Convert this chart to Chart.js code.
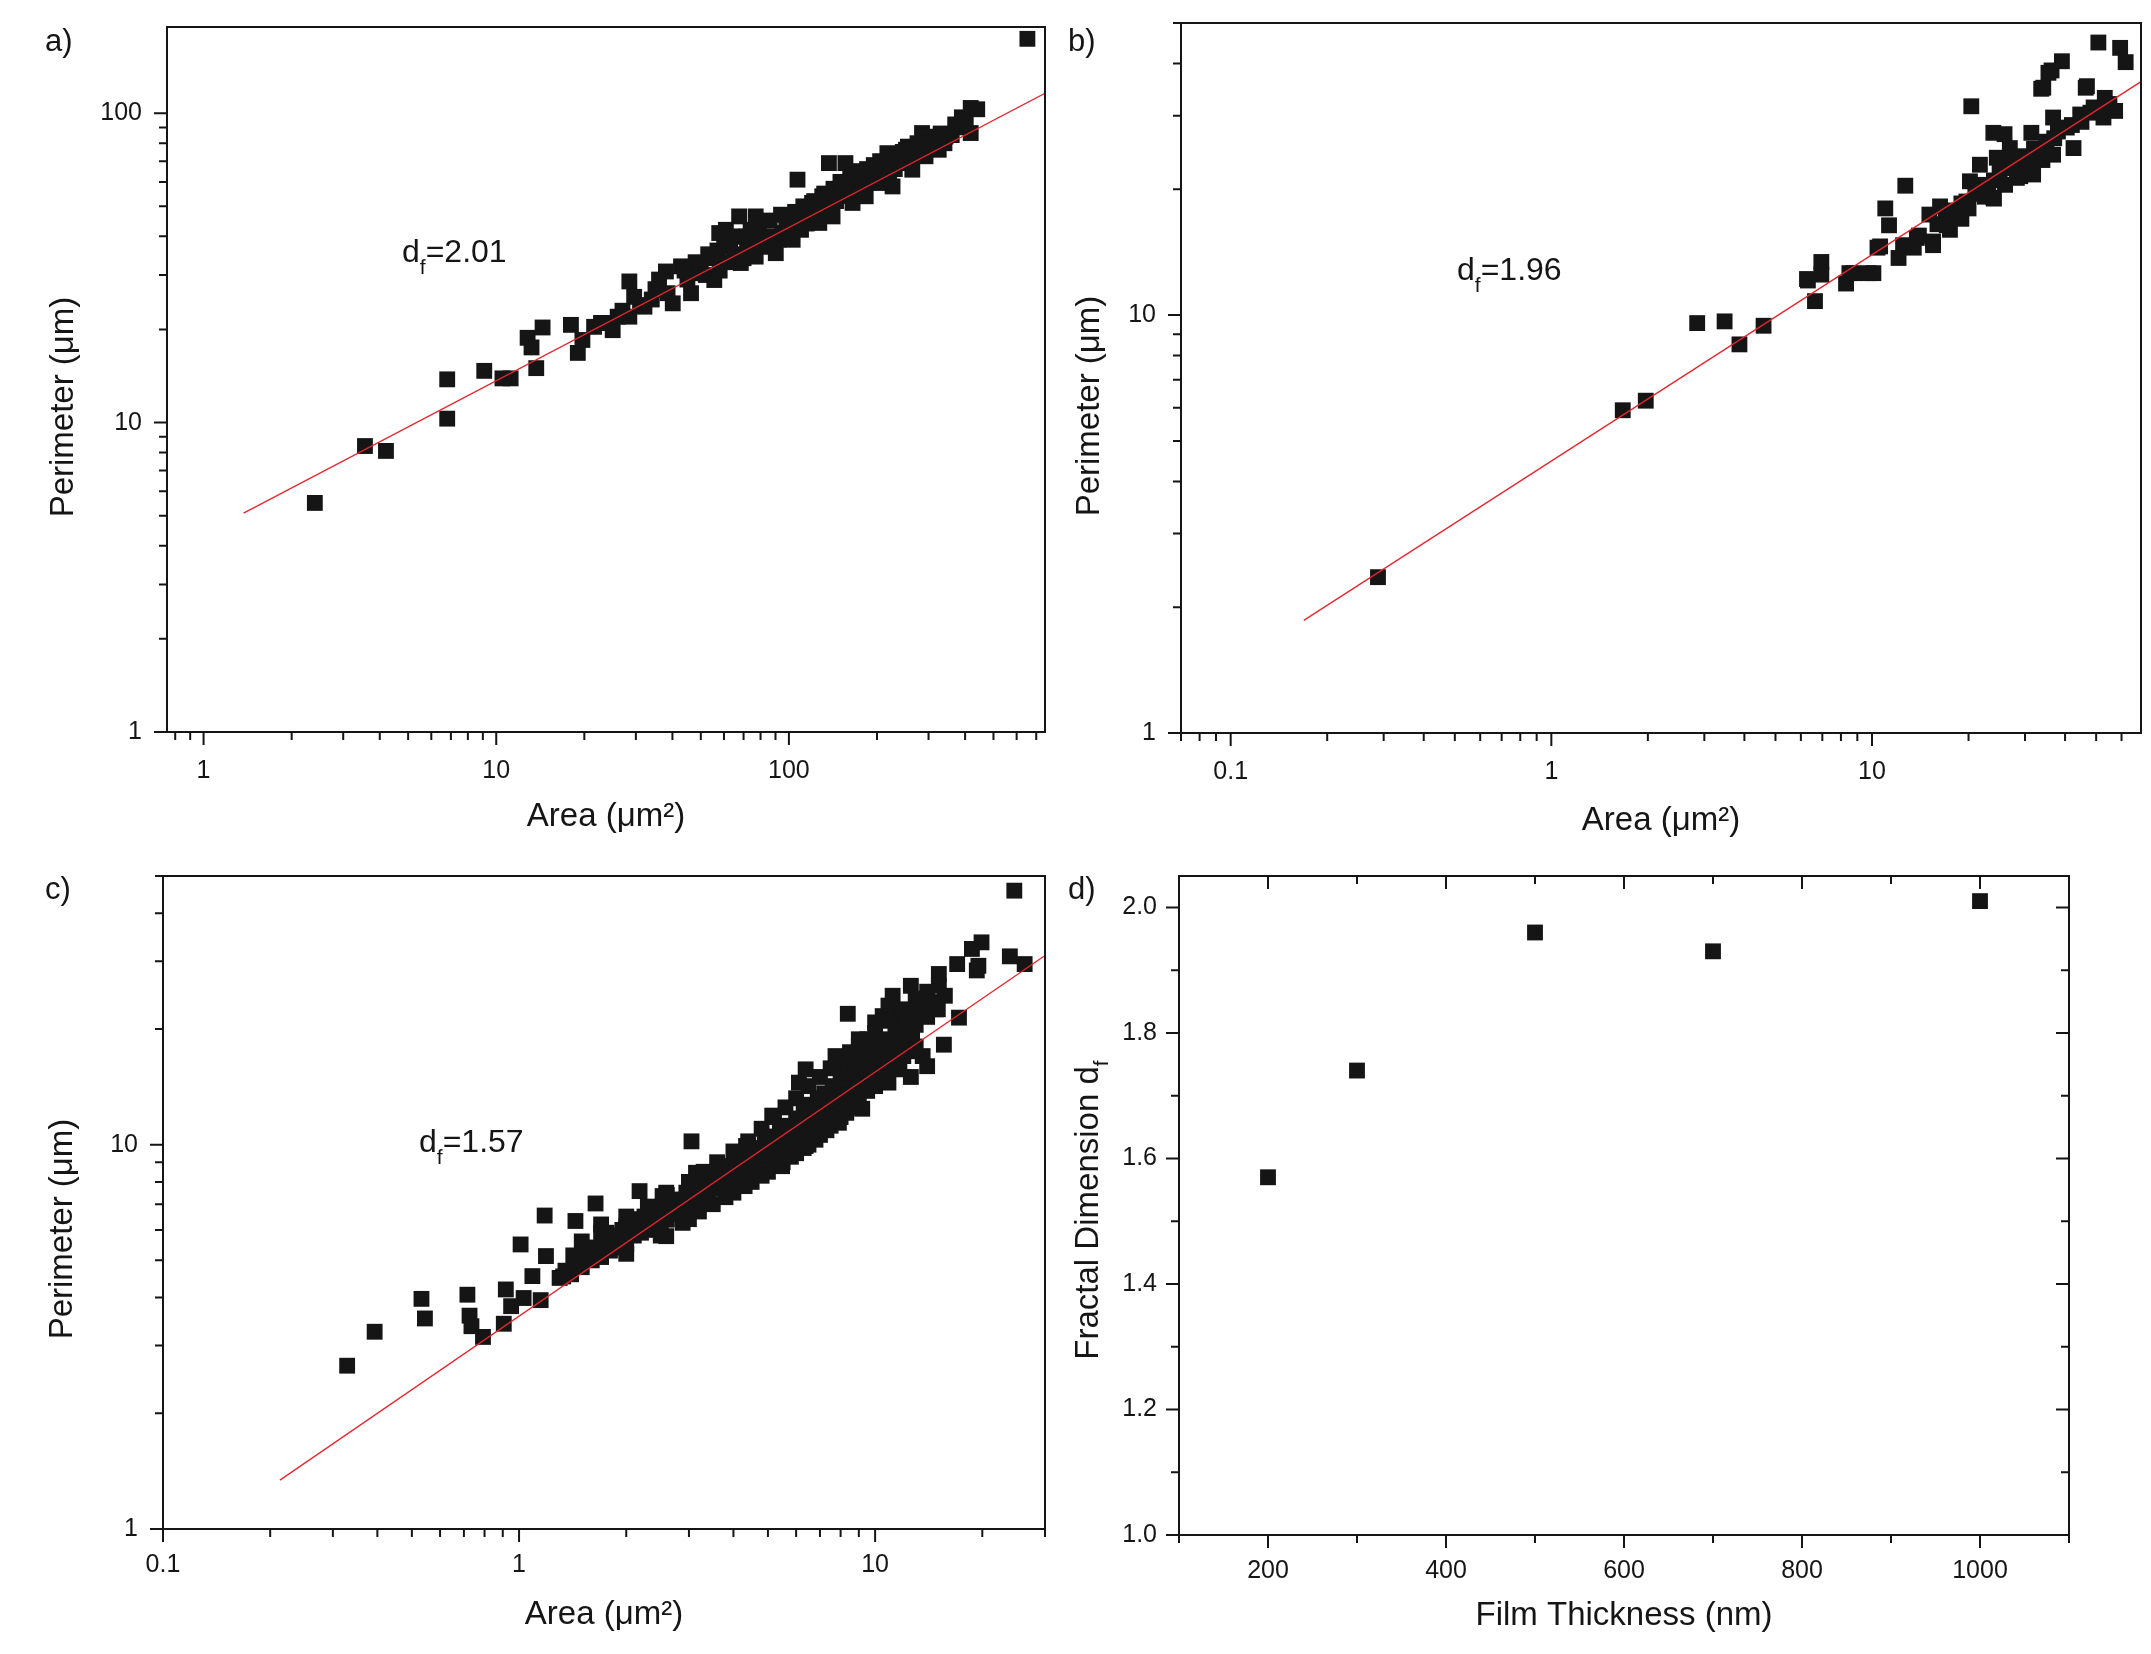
<!DOCTYPE html>
<html>
<head>
<meta charset="utf-8">
<script src="https://cdn.jsdelivr.net/npm/chart.js@4.4.0/dist/chart.umd.min.js"></script>
<style>
html, body { margin: 0; padding: 0; background: #fff; overflow: hidden; }
body { width: 2151px; height: 1654px; position: relative; font-family: "Liberation Sans", Arial, sans-serif; color: #151515; }
canvas { position: absolute; }
.lbl { position: absolute; font-size: 31px; line-height: 1; white-space: nowrap; }
.df { position: absolute; font-size: 32px; line-height: 1; white-space: nowrap; }
.sub { font-size: 21px; position: relative; top: 12px; }
.ytitle { position: absolute; font-size: 33px; line-height: 1; white-space: nowrap; transform: translate(-50%, -50%) rotate(-90deg); }
</style>
</head>
<body>
<canvas id="pa"></canvas>
<canvas id="pb"></canvas>
<canvas id="pc"></canvas>
<canvas id="pd"></canvas>

<div class="lbl" style="left:45px;top:25px">a)</div>
<div class="lbl" style="left:1068px;top:25px">b)</div>
<div class="lbl" style="left:45px;top:873px">c)</div>
<div class="lbl" style="left:1068px;top:873px">d)</div>

<div class="df" style="left:402px;top:235px">d<span class="sub">f</span>=2.01</div>
<div class="df" style="left:1457px;top:253px">d<span class="sub">f</span>=1.96</div>
<div class="df" style="left:419px;top:1125px">d<span class="sub">f</span>=1.57</div>

<div class="ytitle" style="left:61px;top:407px">Perimeter (&mu;m)</div>
<div class="ytitle" style="left:1087px;top:406px">Perimeter (&mu;m)</div>
<div class="ytitle" style="left:60px;top:1229px">Perimeter (&mu;m)</div>
<div class="ytitle" style="left:1086px;top:1210px">Fractal Dimension d<span style="font-size:21px;position:relative;top:10px">f</span></div>

<script>
// panel a : area (um^2), perimeter (um)
const aPoints = [
  [2.4,5.5],[3.56,8.4],[4.2,8.1],[6.8,13.8],[6.8,10.3],[9.1,14.7],[10.5,13.9],[11.2,13.9],
  [12.8,18.8],[13.2,17.5],[14.4,20.3],[13.7,15.0],[18.0,20.7],[19.0,16.8],[19.7,18.5],[21.6,20.4],
  [22.8,21.0],[25.0,19.9],[24,21],[26,22],[27,23],[28.5,28.6],[28.5,22.0],[29.6,25.5],[31,24],
  [32.1,23.7],[34,25],[35,27],[36,29],[38.0,30.8],[38.5,26.2],[40.1,24.3],[42.8,32.0],[44,31],[45,29],
  [46.3,26.2],[48,33],[49.4,30.4],[50,32],[52,30],[53,35],[55.6,28.9],[55.6,34.0],[57,36],[57.8,41.0],
  [58,31],[60.9,42.0],[60.1,37.1],[62,33],[63,38],[65,35],[66,40],[67.6,46.4],[68.5,32.8],[70,34],
  [71.3,39.9],[72,36],[74,42],[77.0,46.4],[77.0,34.4],[79,43],[80,38],[83.4,39.9],[85,37],[86,45],
  [88,40],[90.2,35.3],[92,39],[94,47],[95,41],[98,43],[100,44.2],[103,39.0],[105,48],[107,61.0],
  [108,46.4],[110,42],[112,50],[115,44],[118,48],[120,51.3],[122,52],[125,47],[127,44.2],[128,50],
  [130,53.9],[132,55],[135,49],[137,69.0],[141,46.4],[142,57],[145,52],[148,54],[150,60],[152,58.0],
  [156,69.0],[160,55],[162,64],[165,62.5],[165,51.3],[170,59],[172,65],[175,57],[180,61],[183,53.9],
  [185,66],[190,60],[195,68],[200,62],[203,59.5],[205,70],[210,64],[214,67.3],[217,74.3],[220,63],
  [225,72],[226,58.0],[230,66],[240,69],[245,75],[250,70],[251,76.2],[255,78],[260,72],[264,65.7],
  [270,74],[275,80],[280,76],[285,86.3],[293,72.6],[295,84],[300,80],[310,79],[320,82],[325,76.2],
  [330,86],[340,80],[343,84.1],[360,85],[370,92],[380,90],[390,97],[402,95.3],[418,104],[418,86.3],
  [440,103],[653,174]
];
const aFit = [[1.37,5.1],[750,116]];

// panel b
const bPoints = [
  [0.288,2.36],[1.67,5.92],[1.97,6.24],[2.85,9.57],[3.47,9.66],[3.86,8.51],[4.59,9.43],[6.27,12.2],
  [6.64,10.8],[6.31,12.1],[6.95,13.4],[6.95,12.5],[8.30,11.9],[8.5,12.6],[8.73,12.6],[9.75,12.6],
  [10.1,12.6],[10.4,14.5],[10.6,14.6],[11.0,18.0],[11.3,16.4],[12.1,13.7],[12.5,14.7],[12.7,20.4],
  [13.5,14.5],[13.8,15.3],[14,15.5],[15.1,17.4],[15.5,15.0],[15.5,14.7],[16,16.5],[16.3,18.2],[17,17],
  [17.1,16.4],[17.5,16],[18,17.8],[18.3,17.1],[19,18.5],[19,17],[19.7,18.7],[20.2,20.9],[20.4,31.6],
  [20,18],[21,19.5],[21.7,22.9],[22,20.5],[22.2,19.8],[22.5,19.2],[23,20],[23.9,27.3],[23.9,19.1],
  [24,21],[24,19],[24.5,23.8],[25,22],[25.9,27.1],[26,22.5],[26,20.5],[26.9,25.1],[27,23],[28,22.5],
  [28.3,21.3],[29,21.5],[29.6,23.8],[30,24],[31,22.5],[31.4,27.3],[31.8,21.7],[32,25],[33,24.5],
  [33.7,34.8],[34,23.5],[34.2,35.0],[35,26],[35.5,38.0],[36.3,38.5],[36.7,29.7],[36.7,24.2],[37,26.5],
  [38,27.5],[39.1,40.5],[40.5,28.1],[42,28.5],[42.5,25.1],[44.6,30.2],[45,29],[46.4,35.0],[46.8,35.3],
  [48,30.5],[49.1,31.4],[50,31],[50.8,44.9],[52.7,29.7],[53.2,33.1],[55,32],[57.3,30.8],[59.4,43.6],
  [61.8,40.3]
];
const bFit = [[0.169,1.86],[69,36.2]];

// panel c
const cPoints = [
  [0.329,2.66],[0.393,3.26],[0.532,3.97],[0.544,3.53],[0.716,4.07],[0.726,3.59],[0.735,3.37],
  [0.792,3.16],[0.906,3.42],[0.918,4.2],[0.95,3.8],[1.01,5.5],[1.03,3.99],[1.09,4.55],[1.15,3.94],
  [1.18,6.54],[1.19,5.13],[1.33,4.54],[1.44,6.33],[1.42,5.15],[1.50,5.13],[1.64,7.03],[1.70,6.2],
  [1.76,5.90],[1.87,5.45],[2.00,6.13],[2.18,7.57],[2.32,6.39],[2.53,7.35],[3.05,10.2],
  [2.59,6.38],[2.59,7.5],[2.59,5.78],[2.82,7.20],[2.88,6.26],[3.14,8.45],[3.21,7.80],[3.34,7.06],
  [3.64,8.45],[3.81,7.64],[4.06,9.33],[4.24,8.98],[4.34,9.92],[4.72,8.62],[5.14,11.9],[5.26,10.1],
  [5.48,8.79],[5.85,9.73],[6.11,14.5],[6.11,11.4],[6.38,15.7],[6.38,9.92],[6.95,12.4],[6.95,10.7],
  [7.74,17.0],[7.74,13.9],[7.91,11.4],[8.26,15.1],[8.38,21.9],[8.62,13.1],[9.0,18.8],[9.2,12.4],
  [9.4,17.0],[9.8,16.4],[10.0,20.8],[10.0,14.2],[10.5,21.6],[10.9,23.0],[10.9,14.5],[11.2,24.4],
  [11.2,17.7],[11.7,15.7],[11.9,21.2],[12.6,15.0],[12.6,25.9],[12.7,19.2],[13.3,23.9],[13.6,17.0],
  [13.8,22.1],[14.0,16.0],[14.8,22.5],[15.1,27.8],[15.1,25.9],[15.6,18.2],[15.7,24.4],[17.0,29.5],
  [17.2,21.4],[18.7,32.3],[19.3,28.4],[19.5,29.2],[19.9,33.6],[23.9,30.9],[24.6,45.8],[26.3,29.5],
  [1.3,4.5],[1.4,4.6],[1.5,4.8],[1.6,5.0],[1.7,5.1],[1.8,5.3],[1.9,5.4],[2.0,5.5],[2.1,5.8],[2.2,5.9],
  [2.3,6.0],[2.4,6.1],[2.5,6.3],[2.6,6.4],[2.7,6.6],[2.8,6.7],[2.9,6.9],[3.0,7.0],[3.2,7.2],[3.4,7.5],
  [3.6,7.7],[3.8,8.0],[4.0,8.2],[4.2,8.4],[4.4,8.6],[4.6,8.9],[4.8,9.1],[5.0,9.4],[5.3,9.7],[5.6,10.0],
  [5.9,10.4],[6.2,10.8],[6.5,11.2],[6.8,11.6],[7.1,12.0],[7.5,12.5],[7.9,13.0],[8.3,13.6],[8.7,14.2],
  [9.1,14.8],[9.5,15.4],[10,16],[10.5,16.8],[11,17.5],[11.5,18.2],[12,19],[12.5,19.8],[13,20.5],
  [14,21.5],[15,22.5],
  [1.5,5.6],[1.7,5.9],[2.0,6.5],[2.3,6.9],[2.6,7.4],[3.0,8.0],[3.3,8.5],[3.6,9.0],[4.0,9.6],[4.4,10.2],
  [4.8,11.0],[5.2,11.8],[5.6,12.5],[6.0,13.2],[6.5,14.2],[7.0,15.0],[7.5,15.8],[8.0,16.6],[8.5,17.4],
  [9.0,18.0],[9.5,18.8],[10.0,19.5],[11,21],[12,22.5],[13,24],[14,25],
  [2.0,5.2],[2.5,5.8],[3.0,6.4],[3.5,7.0],[4.0,7.5],[4.5,8.0],[5.0,8.5],[5.5,9.0],[6.0,9.5],[6.5,10.0],
  [7.0,10.6],[7.5,11.2],[8.0,11.8],[8.5,12.5],[9.0,13.2],[10,14.5],[11,15.8],[12,17.0],[13,18.0],
  [1.35,4.7],[1.45,4.9],[1.55,5.2],[1.65,5.4],[1.75,5.6],[1.85,5.8],[1.95,6.0],[2.05,6.2],[2.15,6.4],
  [2.25,6.5],[2.35,6.6],[2.45,6.8],[2.55,7.0],[2.75,7.1],[2.95,7.5],[3.1,7.6],[3.3,7.9],[3.5,8.2],
  [3.7,8.5],[3.9,8.8],[4.1,9.0],[4.3,9.3],[4.5,9.6],[4.7,9.8],[4.9,10.2],[5.1,10.5],[5.4,10.8],
  [5.7,11.2],[6.0,11.7],[6.3,12.2],[6.6,12.7],[6.9,13.2],[7.2,13.6],[7.6,14.2],[8.0,14.8],[8.4,15.4],
  [8.8,16.0],[9.2,16.5],[9.6,17.2],[10.2,18.0],[10.8,18.8],[11.4,19.8],[12.2,20.8],[13.2,22.0],
  [14.2,23.5],[3.2,6.7],[3.8,7.3],[4.3,7.8],[4.8,8.3],[5.3,8.8],[5.8,9.3],[6.3,9.8],[6.8,10.3],
  [7.3,10.9],[7.8,11.5],[8.3,12.1],[8.8,12.8],[9.5,13.8],[10.5,15.2],[11.5,16.4],[12.5,17.5]
];
const cFit = [[0.213,1.34],[29.8,30.9]];

// panel d
const dThickness = [200, 300, 500, 700, 1000];
const dFractal = [1.57, 1.74, 1.96, 1.93, 2.01];

// labelled ticks
const aXLabels = [1, 10, 100], aYLabels = [1, 10, 100];
const bXLabels = [0.1, 1, 10], bYLabels = [1, 10];
const cXLabels = [0.1, 1, 10], cYLabels = [1, 10];
const dXLabels = [200, 400, 600, 800, 1000], dYLabels = [1.0, 1.2, 1.4, 1.6, 1.8, 2.0];

const ink = '#151515';
const red = '#e3262f';
const tickFont = { family: '"Liberation Sans", Arial, sans-serif', size: 25 };
const titleFont = { family: '"Liberation Sans", Arial, sans-serif', size: 33 };

function logTicks(min, max, labelled) {
  const out = [];
  for (let e = Math.floor(Math.log10(min)); e <= Math.ceil(Math.log10(max)); e++) {
    for (let k = 1; k <= 9; k++) {
      const v = +(k * Math.pow(10, e)).toPrecision(6);
      if (v >= min && v <= max) out.push({ value: v, major: labelled.includes(v) });
    }
  }
  return out;
}
function linTicks(min, max, step, labelled) {
  const out = [];
  const n = Math.round((max - min) / step);
  for (let i = 0; i <= n; i++) {
    const v = +(min + i * step).toFixed(6);
    if (v <= max + 1e-9) out.push({ value: v, major: labelled.some(l => Math.abs(l - v) < 1e-9) });
  }
  return out;
}

// box frame + tick marks (long for labelled, short for the rest)
const framePlugin = {
  id: 'frame',
  afterDatasetsDraw(chart, args, opts) {
    const { ctx, chartArea: ca } = chart;
    const xs = chart.scales.x, ys = chart.scales.y;
    ctx.save();
    ctx.strokeStyle = ink;
    ctx.lineWidth = 2;
    ctx.strokeRect(ca.left, ca.top, ca.right - ca.left, ca.bottom - ca.top);
    ctx.beginPath();
    xs.ticks.forEach(t => {
      const p = xs.getPixelForValue(t.value);
      const len = t.major ? 13 : 8;
      ctx.moveTo(p, ca.bottom); ctx.lineTo(p, ca.bottom + len);
      if (opts.mirror) { ctx.moveTo(p, ca.top); ctx.lineTo(p, ca.top + len); }
    });
    ys.ticks.forEach(t => {
      const p = ys.getPixelForValue(t.value);
      const len = t.major ? 13 : 8;
      ctx.moveTo(ca.left, p); ctx.lineTo(ca.left - len, p);
      if (opts.mirror) { ctx.moveTo(ca.right, p); ctx.lineTo(ca.right - len, p); }
    });
    ctx.stroke();
    ctx.restore();
  }
};

const PAD = { left: 130, top: 15, right: 15, bottom: 110 };

function axisOpts(dir, a) {
  return {
    type: a.log ? 'logarithmic' : 'linear',
    position: dir === 'x' ? 'bottom' : 'left',
    min: a.min,
    max: a.max,
    grid: { display: false, drawTicks: false },
    border: { display: false },
    ticks: {
      autoSkip: false, maxRotation: 0, minRotation: 0,
      padding: a.tickPad, color: ink, font: tickFont,
      callback: (v, i, ticks) => ticks[i].major ? a.fmt(ticks[i].value) : ''
    },
    title: {
      display: !!a.title, text: a.title, color: ink, font: titleFont,
      padding: { top: 0, bottom: a.titlePad || 0 }
    },
    afterBuildTicks: s => { s.ticks = a.ticks.map(t => ({ ...t })); },
    afterFit: s => {
      if (dir === 'x') s.height = PAD.bottom; else s.width = PAD.left;
      s.paddingLeft = 0; s.paddingRight = 0; s.paddingTop = 0; s.paddingBottom = 0;
    }
  };
}

function makePanel(id, box, datasets, xa, ya, mirror) {
  const cv = document.getElementById(id);
  const w = box.r - box.l + PAD.left + PAD.right;
  const h = box.b - box.t + PAD.top + PAD.bottom;
  cv.width = w; cv.height = h;
  cv.style.left = (box.l - PAD.left) + 'px';
  cv.style.top = (box.t - PAD.top) + 'px';
  cv.style.width = w + 'px';
  cv.style.height = h + 'px';
  return new Chart(cv, {
    type: 'scatter',
    data: { datasets: datasets },
    options: {
      responsive: false,
      animation: false,
      devicePixelRatio: 1,
      events: [],
      layout: { padding: { left: 0, top: PAD.top, right: PAD.right, bottom: 0 } },
      plugins: { legend: { display: false }, tooltip: { enabled: false }, frame: { mirror: mirror } },
      scales: { x: axisOpts('x', xa), y: axisOpts('y', ya) }
    },
    plugins: [framePlugin]
  });
}

function pts(list) { return list.map(p => ({ x: p[0], y: p[1] })); }
function squares(data) {
  return { data: data, pointStyle: 'rect', pointRadius: 11.2, pointBackgroundColor: ink, borderWidth: 0, showLine: false, order: 1 };
}
function fitLine(data) {
  return { data: data, showLine: true, borderColor: red, borderWidth: 1.3, pointRadius: 0, fill: false, order: 0 };
}

const logFmt = v => String(v);
const areaTitle = 'Area (\u03bcm\u00b2)';

makePanel('pa', { l: 167, t: 27, r: 1045, b: 732 },
  [fitLine(pts(aFit)), squares(pts(aPoints))],
  { log: true, min: 0.75, max: 750, ticks: logTicks(0.75, 750, aXLabels), fmt: logFmt, tickPad: 24, title: areaTitle, titlePad: 5 },
  { log: true, min: 1, max: 190, ticks: logTicks(1, 190, aYLabels), fmt: logFmt, tickPad: 25 },
  false);

makePanel('pb', { l: 1181, t: 23, r: 2141, b: 733 },
  [fitLine(pts(bFit)), squares(pts(bPoints))],
  { log: true, min: 0.07, max: 69, ticks: logTicks(0.07, 69, bXLabels), fmt: logFmt, tickPad: 24, title: areaTitle, titlePad: 2 },
  { log: true, min: 1, max: 50, ticks: logTicks(1, 50, bYLabels), fmt: logFmt, tickPad: 25 },
  false);

makePanel('pc', { l: 163, t: 876, r: 1045, b: 1529 },
  [fitLine(pts(cFit)), squares(pts(cPoints))],
  { log: true, min: 0.1, max: 30, ticks: logTicks(0.1, 30, cXLabels), fmt: logFmt, tickPad: 21, title: areaTitle, titlePad: 4 },
  { log: true, min: 1, max: 50, ticks: logTicks(1, 50, cYLabels), fmt: logFmt, tickPad: 25 },
  false);

makePanel('pd', { l: 1179, t: 876, r: 2069, b: 1535 },
  [squares(dThickness.map((t, i) => ({ x: t, y: dFractal[i] })))],
  { log: false, min: 100, max: 1100, ticks: linTicks(100, 1100, 100, dXLabels), fmt: v => String(v), tickPad: 21, title: 'Film Thickness (nm)', titlePad: 9 },
  { log: false, min: 1.0, max: 2.05, ticks: linTicks(1.0, 2.05, 0.1, dYLabels), fmt: v => v.toFixed(1), tickPad: 22 },
  true);
</script>
</body>
</html>
